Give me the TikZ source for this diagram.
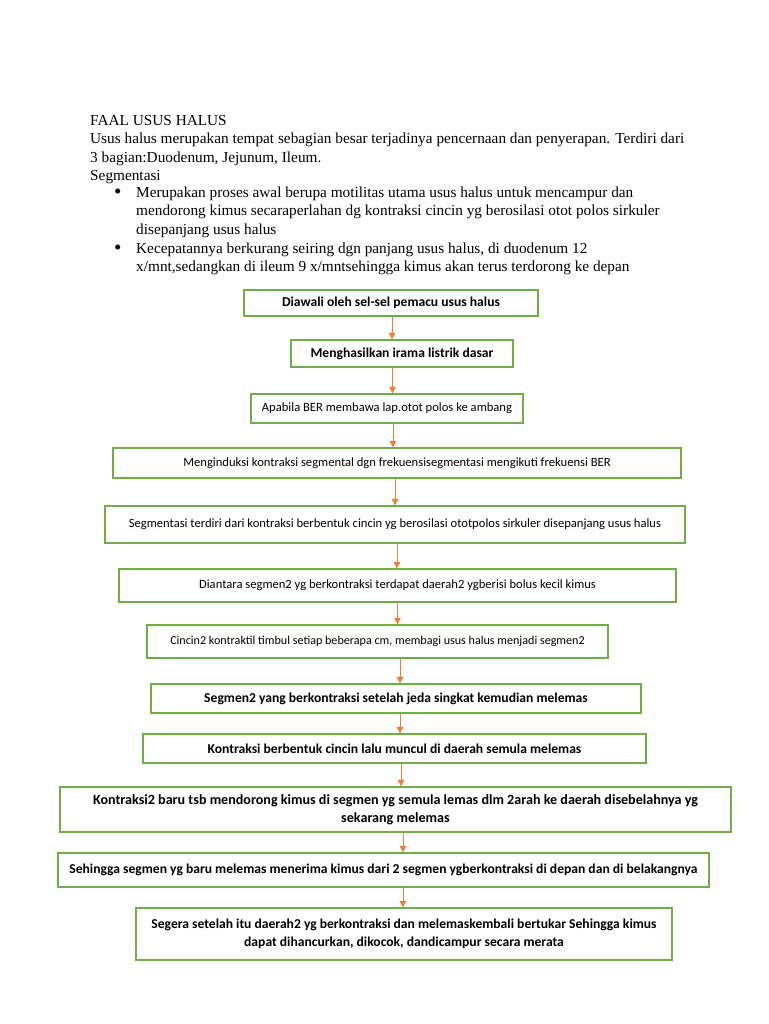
\documentclass[tikz,border=0pt]{standalone}
\usepackage{fontspec}
\setmainfont{Liberation Serif}
\newfontfamily\boxfont{Carlito}
\usetikzlibrary{arrows.meta}
\definecolor{boxgreen}{HTML}{70AD47}
\definecolor{arrorange}{HTML}{ED7D31}
\begin{document}
\begin{tikzpicture}[x=1pt,y=-1pt,
  hline/.style={anchor=base west, inner sep=0pt, font=\fontsize{15.3}{18}\selectfont},
  bulletmark/.style={anchor=base west, inner sep=0pt, font=\fontsize{21}{18}\selectfont},
  flowbox/.style={draw=boxgreen, line width=1.3pt, fill=white, inner sep=0pt, align=center},
  boldtxt/.style={font=\boxfont\fontsize{13.6}{18}\selectfont\bfseries},
  smalltxt/.style={font=\boxfont\fontsize{12.6}{14}\selectfont},
  flowarrow/.style={draw=arrorange, line width=0.9pt, -{Triangle[width=6.5pt,length=6.5pt]}}]
\useasboundingbox (0,0) rectangle (768,1024);
\fill[white] (0,0) rectangle (768,1024);

% header text
\node[hline] (h1) at (90,126) {FAAL USUS HALUS};
\node[hline] (h2) at (90,144) {Usus halus merupakan tempat sebagian besar terjadinya pencernaan dan penyerapan. Terdiri dari};
\node[hline] (h3) at (90,162.5) {3 bagian:Duodenum, Jejunum, Ileum.};
\node[hline] (h4) at (90,181) {Segmentasi};
\node[bulletmark] (bu1) at (114,199) {\textbullet};
\node[hline] (p1a) at (136,198) {Merupakan proses awal berupa motilitas utama usus halus untuk mencampur dan};
\node[hline] (p1b) at (136,216) {mendorong kimus secaraperlahan dg kontraksi cincin yg berosilasi otot polos sirkuler};
\node[hline] (p1c) at (136,234) {disepanjang usus halus};
\node[bulletmark] (bu2) at (114,254) {\textbullet};
\node[hline] (p2a) at (136,253) {Kecepatannya berkurang seiring dgn panjang usus halus, di duodenum 12};
\node[hline] (p2b) at (136,271) {x/mnt,sedangkan di ileum 9 x/mntsehingga kimus akan terus terdorong ke depan};

% flow boxes
\node[flowbox, boldtxt, minimum width=294pt, minimum height=26pt] (b1) at (391,303) {Diawali oleh sel-sel pemacu usus halus};
\node[flowbox, boldtxt, minimum width=222pt, minimum height=27pt] (b2) at (402,353.5) {Menghasilkan irama listrik dasar};
\node[flowbox, smalltxt, minimum width=272pt, minimum height=29pt] (b3) at (387,408.5) {Apabila BER membawa lap.otot polos ke ambang};
\node[flowbox, smalltxt, minimum width=568pt, minimum height=30pt] (b4) at (397,463) {Menginduksi kontraksi segmental dgn frekuensisegmentasi mengikuti frekuensi BER};
\node[flowbox, smalltxt, minimum width=580pt, minimum height=37pt] (b5) at (395,524.5) {Segmentasi terdiri dari kontraksi berbentuk cincin yg berosilasi ototpolos sirkuler disepanjang usus halus};
\node[flowbox, smalltxt, minimum width=557pt, minimum height=33pt] (b6) at (397.5,585.5) {Diantara segmen2 yg berkontraksi terdapat daerah2 ygberisi bolus kecil kimus};
\node[flowbox, font=\boxfont\fontsize{12.1}{14}\selectfont, minimum width=461pt, minimum height=33pt] (b7) at (377.5,641.5) {Cincin2 kontraktil timbul setiap beberapa cm, membagi usus halus menjadi segmen2};
\node[flowbox, boldtxt, minimum width=490pt, minimum height=29pt] (b8) at (396,698.5) {Segmen2 yang berkontraksi setelah jeda singkat kemudian melemas};
\node[flowbox, boldtxt, minimum width=503pt, minimum height=29pt] (b9) at (394.5,748.5) {Kontraksi berbentuk cincin lalu muncul di daerah semula melemas};
\node[flowbox, font=\boxfont\fontsize{14.1}{18}\selectfont\bfseries, minimum width=671pt, minimum height=45pt] (b10) at (395.5,809.5) {Kontraksi2 baru tsb mendorong kimus di segmen yg semula lemas dlm 2arah ke daerah disebelahnya yg\\sekarang melemas};
\node[flowbox, boldtxt, minimum width=651pt, minimum height=34pt] (b11) at (383.5,870) {Sehingga segmen yg baru melemas menerima kimus dari 2 segmen ygberkontraksi di depan dan di belakangnya};
\node[flowbox, boldtxt, minimum width=536pt, minimum height=52pt] (b12) at (404,934) {Segera setelah itu daerah2 yg berkontraksi dan melemaskembali bertukar Sehingga kimus\\dapat dihancurkan, dikocok, dandicampur secara merata};

% arrow columns
\coordinate (c1) at (392,0);
\coordinate (c2) at (392.5,0);
\coordinate (c3) at (393,0);
\coordinate (c4) at (395,0);
\coordinate (c5) at (397,0);
\coordinate (c6) at (397.5,0);
\coordinate (c7) at (400,0);
\coordinate (c8) at (400,0);
\coordinate (c9) at (401,0);
\coordinate (c10) at (403,0);
\coordinate (c11) at (403,0);

\draw[flowarrow] (b1.south -| c1) -- (b2.north -| c1);
\draw[flowarrow] (b2.south -| c2) -- (b3.north -| c2);
\draw[flowarrow] (b3.south -| c3) -- (b4.north -| c3);
\draw[flowarrow] (b4.south -| c4) -- (b5.north -| c4);
\draw[flowarrow] (b5.south -| c5) -- (b6.north -| c5);
\draw[flowarrow] (b6.south -| c6) -- (b7.north -| c6);
\draw[flowarrow] (b7.south -| c7) -- (b8.north -| c7);
\draw[flowarrow] (b8.south -| c8) -- (b9.north -| c8);
\draw[flowarrow] (b9.south -| c9) -- (b10.north -| c9);
\draw[flowarrow] (b10.south -| c10) -- (b11.north -| c10);
\draw[flowarrow] (b11.south -| c11) -- (b12.north -| c11);
\end{tikzpicture}
\end{document}
